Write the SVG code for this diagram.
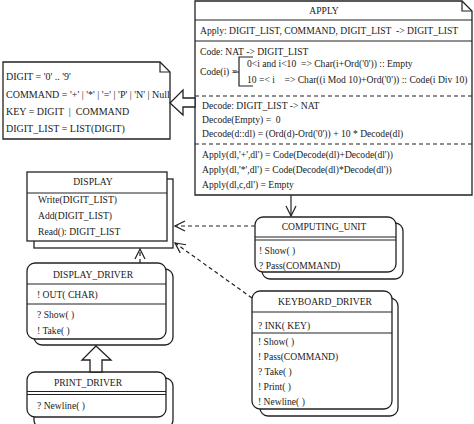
<svg xmlns="http://www.w3.org/2000/svg" width="474" height="424" viewBox="0 0 474 424">
<style>
text{font-family:"Liberation Serif","Times New Roman",serif;font-size:9.6px;fill:#1a1a1a;white-space:pre}
.t{text-anchor:middle}
.b{fill:#fff;stroke:#222;stroke-width:1.3}
.l{stroke:#222;stroke-width:1.2;fill:none}
.d{stroke:#222;stroke-width:1.2;fill:none;stroke-dasharray:4 3}
.n{font-size:10px}
</style>
<defs>
<marker id="v" markerWidth="12" markerHeight="12" refX="11" refY="6" orient="auto" markerUnits="userSpaceOnUse">
<path d="M1,1 L11,6 L1,11" fill="none" stroke="#222" stroke-width="1.2"/>
</marker>
</defs>
<rect width="474" height="424" fill="#fff"/>

<g id="apply">
<path class="b" d="M195,1 H462 L472,11 V195 H195 Z"/>
<path class="l" d="M462,1 V11 H472"/>
<line class="l" x1="195" y1="20" x2="472" y2="20"/>
<line class="l" x1="195" y1="41" x2="472" y2="41"/>
<line class="d" x1="195" y1="96" x2="472" y2="96"/>
<line class="d" x1="195" y1="144" x2="472" y2="144"/>
<text class="t" x="324" y="14">APPLY</text>
<text x="200" y="34">Apply: DIGIT_LIST, COMMAND, DIGIT_LIST  -&gt; DIGIT_LIST</text>
<text x="200" y="55">Code: NAT -&gt; DIGIT_LIST</text>
<text x="200" y="75">Code(i) =</text>
<path class="l" d="M253,57 H239 V86 H253 M233,72 H239"/>
<text x="247" y="67">0&lt;i and i&lt;10  =&gt; Char(i+Ord('0')) :: Empty</text>
<text x="247" y="83">10 =&lt; i    =&gt; Char((i Mod 10)+Ord('0')) :: Code(i Div 10)</text>
<text x="202" y="109">Decode: DIGIT_LIST -&gt; NAT</text>
<text x="202" y="123">Decode(Empty) =  0</text>
<text x="202" y="137">Decode(d::dl) = (Ord(d)-Ord('0')) + 10 * Decode(dl)</text>
<text x="202" y="158">Apply(dl,'+',dl') = Code(Decode(dl)+Decode(dl'))</text>
<text x="202" y="173">Apply(dl,'*',dl') = Code(Decode(dl)*Decode(dl'))</text>
<text x="202" y="188">Apply(dl,c,dl') = Empty</text>
</g>

<g id="types">
<path class="b" d="M3,62 H160 L170,72 V139 H3 Z"/>
<path class="l" d="M160,62 V72 H170"/>
<text class="n" x="6" y="80">DIGIT = '0' .. '9'</text>
<text class="n" x="6" y="98">COMMAND = '+' | '*' | '=' | 'P' | 'N' | Null</text>
<text class="n" x="6" y="115">KEY = DIGIT  |  COMMAND</text>
<text class="n" x="6" y="132">DIGIT_LIST = LIST(DIGIT)</text>
</g>

<g id="display">
<rect class="b" x="34" y="179" width="139" height="69"/>
<rect class="b" x="27" y="172" width="140" height="69"/>
<line class="l" x1="27" y1="193" x2="167" y2="193"/>
<text class="t" x="93" y="185">DISPLAY</text>
<text x="38" y="203">Write(DIGIT_LIST)</text>
<text x="38" y="219">Add(DIGIT_LIST)</text>
<text x="38" y="235">Read(): DIGIT_LIST</text>
</g>

<g id="display_driver">
<rect class="b" x="34" y="269" width="139" height="76" rx="8"/>
<rect class="b" x="27" y="263" width="139" height="76" rx="8"/>
<line class="l" x1="27" y1="284" x2="166" y2="284"/>
<line class="l" x1="27" y1="304" x2="166" y2="304"/>
<text class="t" x="93" y="278">DISPLAY_DRIVER</text>
<text x="37" y="298">! OUT( CHAR)</text>
<text x="37" y="318">? Show( )</text>
<text x="37" y="334">! Take( )</text>
</g>

<g id="print_driver">
<rect class="b" x="34" y="378" width="139" height="50" rx="8"/>
<rect class="b" x="27" y="372" width="139" height="45" rx="8"/>
<line class="l" x1="27" y1="391.5" x2="166" y2="391.5"/>
<line class="l" x1="27" y1="394.5" x2="166" y2="394.5"/>
<text class="t" x="88" y="386">PRINT_DRIVER</text>
<text x="37" y="409">? Newline( )</text>
</g>

<g id="computing_unit">
<rect class="b" x="262" y="223" width="141" height="56" rx="8"/>
<rect class="b" x="255" y="217" width="141" height="55" rx="8"/>
<line class="l" x1="255" y1="237" x2="396" y2="237"/>
<line class="l" x1="255" y1="240" x2="396" y2="240"/>
<text class="t" x="324" y="230">COMPUTING_UNIT</text>
<text x="259" y="254">! Show( )</text>
<text x="259" y="269">? Pass(COMMAND)</text>
</g>

<g id="keyboard_driver">
<rect class="b" x="260" y="298" width="138" height="118" rx="8"/>
<rect class="b" x="252" y="291" width="140" height="118" rx="8"/>
<line class="l" x1="252" y1="312" x2="392" y2="312"/>
<line class="l" x1="252" y1="333" x2="392" y2="333"/>
<text class="t" x="325" y="305">KEYBOARD_DRIVER</text>
<text x="258" y="329">? INK( KEY)</text>
<text x="258" y="345">! Show( )</text>
<text x="258" y="360">! Pass(COMMAND)</text>
<text x="258" y="375">? Take( )</text>
<text x="258" y="390">! Print( )</text>
<text x="258" y="405">! Newline( )</text>
</g>

<g id="connectors">
<line class="l" x1="291" y1="195" x2="291" y2="216" marker-end="url(#v)"/>
<line class="d" x1="255" y1="226" x2="175" y2="226" marker-end="url(#v)"/>
<line class="d" x1="252" y1="298" x2="175" y2="243" marker-end="url(#v)"/>
<line class="d" x1="140" y1="263" x2="140" y2="249" marker-end="url(#v)"/>
<polygon class="b" points="96,346 111,360 102,360 102,372 90,372 90,360 82,360"/>
<polygon class="b" points="170,103 183,90 183,98 195,98 195,107 183,107 183,115"/>
</g>
</svg>
